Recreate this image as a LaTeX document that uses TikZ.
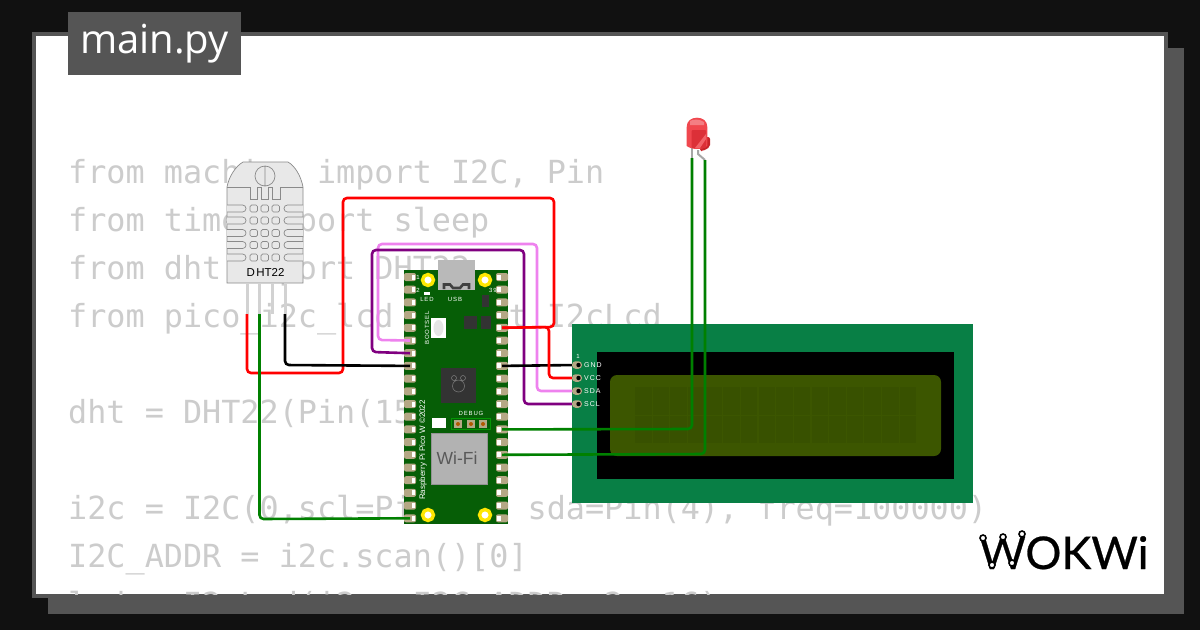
\documentclass[tikz,border=0pt]{standalone}
\usepackage{fontspec}
\setmonofont{DejaVu Sans Mono}
\newfontfamily\titlefont{Open Sans}
\newfontfamily\labelfont{Liberation Sans}
\newfontfamily\spacedfont[LetterSpace=14]{Liberation Sans}
\newfontfamily\logofont[FakeBold=0.6]{Lato}
\usetikzlibrary{calc}
\definecolor{pagedark}{HTML}{111111}
\definecolor{framegray}{HTML}{555555}
\definecolor{codegray}{HTML}{CCCCCC}
\definecolor{picogreen}{HTML}{065E06}
\definecolor{padtan}{HTML}{B5A885}
\definecolor{lcdgreen}{HTML}{087F45}
\definecolor{lcdolive}{HTML}{3C5600}
\definecolor{lcdcell}{HTML}{385100}
\definecolor{dhtgray}{HTML}{E8E8E8}
\definecolor{dhtline}{HTML}{8A8A8A}
\definecolor{wirered}{HTML}{FF0000}
\definecolor{wiregreen}{HTML}{008000}
\definecolor{wirepink}{HTML}{EE82EE}
\definecolor{wirepurple}{HTML}{800080}
\definecolor{leddome}{HTML}{F0474E}
\definecolor{ledinner}{HTML}{DC3038}
\definecolor{ledflange}{HTML}{C8242A}
\tikzset{
   wire/.style = {line width=2.6pt, rounded corners=4pt},
   codeline/.style = {anchor=base west, inner sep=0pt, text=codegray, font=\ttfamily\fontsize{31.8}{38}\selectfont},
   tiny/.style = {inner sep=0pt, text=white, font=\spacedfont\fontsize{6}{7}\selectfont},
   lcdname/.style = {inner sep=0pt, text=white, anchor=west, font=\spacedfont\fontsize{7}{8}\selectfont},
   picopad/.style = {rectangle, rounded corners=2pt, fill=padtan, minimum width=12pt, minimum height=8pt, inner sep=0pt},
   lcdpad/.style = {rectangle, rounded corners=3.5pt, fill=padtan, minimum width=10pt, minimum height=7.5pt, inner sep=0pt},
   hole/.style = {circle, draw=yellow!90!orange, line width=3.4pt, fill=white, minimum size=11pt, inner sep=0pt},
   slot/.style = {draw=dhtline, line width=0.7pt, fill=dhtgray},
   darkchip/.style = {fill=black!80, draw=none},
}

\begin{document}
\begin{tikzpicture}[x=1pt,y=-1pt]
   \useasboundingbox (0,0) rectangle (1200,630);
   \fill[pagedark] (0,0) rectangle (1200,630);
   \fill[framegray] (48,48) rectangle (1184,614);
   \fill[white, draw=framegray, line width=4pt] (34,34) rectangle (1166,596);

   \begin{scope}
      \clip (36,36) rectangle (1164,594);
      \foreach \ypos/\txt in {
         183/{from machine import I2C, Pin},
         231/{from time import sleep},
         279/{from dht import DHT22},
         327/{from pico\_i2c\_lcd import I2cLcd},
         423/{dht = DHT22(Pin(15))},
         519/{i2c = I2C(0,scl=Pin(5), sda=Pin(4), freq=100000)},
         567/{I2C\_ADDR = i2c.scan()[0]},
         615/{lcd = I2cLcd(i2c, I2C\_ADDR, 2, 16)}}
      {
         \node[codeline] (code\ypos) at (68,\ypos) {\txt};
      }
   \end{scope}

   \node[fill=framegray, minimum width=173pt, minimum height=63pt, inner sep=0pt, text=white,
      font=\titlefont\fontsize{40}{48}\selectfont] (title) at (154.5,43.5) {main.py};

   % dht22
   \path[draw=dhtline, line width=0.7pt, fill=dhtgray] (227,283) -- (227,187)
      .. controls (229,176) and (236,166) .. (243,162) -- (288,162)
      .. controls (295,166) and (301,176) .. (303,187) -- (303,283) -- cycle;
   \draw[dhtline, line width=0.7pt] (227,187) -- (250,187) -- (250,199) -- (257,199) -- (257,187) -- (261,187) -- (261,199)
      -- (268,199) -- (268,187) -- (272,187) -- (272,199) -- (280,199) -- (280,187) -- (303,187);
   \draw[dhtline, line width=0.7pt] (265,176) circle (10) (265,166) -- (265,186);
   \foreach \ypos in {208.5,220.5,233,245,257.5} {
      \draw[slot, rounded corners=3.4pt] (227,\ypos-3.5) -- (246,\ypos-3.5) -- (246,\ypos+3.5) -- (227,\ypos+3.5);
      \draw[slot, rounded corners=3.4pt] (303,\ypos-3.5) -- (284,\ypos-3.5) -- (284,\ypos+3.5) -- (303,\ypos+3.5);
      \foreach \xpos in {250,261,272}
         \draw[slot, rounded corners=1.5pt] (\xpos,\ypos-3.5) rectangle (\xpos+7.5,\ypos+3.5);
   }
   \node[inner sep=0pt, text=black, font=\labelfont\fontsize{11.5}{13}\selectfont] (dhtname) at (265.5,272) {D\kern1.5pt HT22};
   \foreach \xpos/\pinname in {247/vcc,259.5/sda,272/nc,285/gnd} {
      \fill[gray!35] (\xpos-1.5,283) rectangle (\xpos+1.5,314);
      \coordinate (dht\pinname) at (\xpos,314);
   }

   % pico
   \node[fill=picogreen, minimum width=104pt, minimum height=254pt, inner sep=0pt] (pico) at (456,397) {};
   \foreach \i in {1,...,20} {
      \node[picopad] (pl\i) at (410,{277+(\i-1)*12.7}) {};
      \fill[white] ($(pl\i)+(1.5,-2.5)$) rectangle ($(pl\i)+(5,2.5)$);
      \node[picopad] (pr\i) at (502,{277+(\i-1)*12.7}) {};
      \fill[white] ($(pr\i)+(-5,-2.5)$) rectangle ($(pr\i)+(-1.5,2.5)$);
   }
   \node[fill=gray!55, minimum width=37pt, minimum height=30pt, inner sep=0pt] (usb) at (456.5,275) {};
   \draw[black!75, line width=2.6pt] (444,289) -- (444,284.5) -- (450,284.5) -- (453,288) -- (460,288) -- (463,284.5) -- (469,284.5) -- (469,289);
   \foreach \xpos/\ypos/\holename in {428/280/a,485/280/b,428/515/c,485/515/d}
      \node[hole] (hole\holename) at (\xpos,\ypos) {};
   \node[tiny] (pinone) at (418,277) {1};
   \node[tiny] (pintwo) at (418,290) {2};
   \node[tiny] (pinlast) at (493,290) {39};
   \node[tiny] (ledname) at (427,299) {LED};
   \node[tiny] (usbname) at (455,299) {USB};
   \fill[white] (424,291.5) rectangle (430,294.5);
   \node[tiny, rotate=90] (bootname) at (427,328) {BOOTSEL};
   \fill[white] (431,318) rectangle (446,338);
   \fill[gray!20] (438.5,328) ellipse (5 and 8);
   \fill[darkchip] (464,316) rectangle (477,329);
   \fill[darkchip] (481,316) rectangle (491,329);
   \fill[darkchip] (482,295) rectangle (489,307);
   \node[darkchip, minimum size=35pt, inner sep=0pt] (chip) at (458.5,385) {};
   \draw[black!50, line width=0.5pt] (454,378) circle (2.5) (463,378) circle (2.5) (458.5,386) circle (6);
   \fill[white] (432,418) rectangle (446,428);
   \draw[green!35!picogreen, line width=1pt] (451,418) rectangle (490,429);
   \foreach \xpos in {458,471,483} {
      \node[rectangle, fill=padtan, minimum size=8pt, inner sep=0pt] (debug\xpos) at (\xpos,424) {};
      \fill[orange!70!black] (\xpos,424) circle (2);
   }
   \node[tiny] (debugname) at (471,413) {DEBUG};
   \node[fill=gray!60, draw=gray!85, line width=0.8pt, minimum width=56pt, minimum height=51pt, inner sep=0pt,
      text=black!65, font=\labelfont\fontsize{17.5}{20}\selectfont] (wifi) at (459,458.5) {Wi-Fi\hspace*{4pt}};
   \node[inner sep=0pt, text=white, rotate=90, font=\labelfont\fontsize{8}{9}\selectfont] (piconame) at (423,450) {Raspberry Pi Pico W \textcopyright 2022};

   % lcd
   \node[fill=lcdgreen, minimum width=401pt, minimum height=179pt, inner sep=0pt] (lcd) at (772.5,413.5) {};
   \node[fill=black, minimum width=357pt, minimum height=127pt, inner sep=0pt] (lcdframe) at (775.5,415.5) {};
   \node[fill=lcdolive, rounded corners=7pt, minimum width=331pt, minimum height=81pt, inner sep=0pt] (lcdview) at (775.5,415.5) {};
   \foreach \i in {0,...,15} {
      \fill[lcdcell] ({635+\i*17.65},387) rectangle ({651.5+\i*17.65},414.6);
      \fill[lcdcell] ({635+\i*17.65},415.6) rectangle ({651.5+\i*17.65},443);
   }
   \foreach \ypos/\pinname/\pintext in {365/gnd/GND,378/vcc/VCC,391/sda/SDA,404/scl/SCL} {
      \node[lcdpad] (lcd\pinname) at (577,\ypos) {};
      \fill[black] (lcd\pinname) ++(1.5,0) circle (2.2);
      \node[lcdname] (lcdname\pinname) at (584,\ypos) {\pintext};
   }
   \node[tiny] (lcdone) at (578,356) {1};

   % led
   \draw[gray!70, line width=2pt] (692,148) -- (692,158);
   \draw[gray!70, line width=2pt] (698,150) -- (698,154) -- (705,160);
   \coordinate (ledcathode) at (692,158);
   \coordinate (ledanode) at (705,160);
   \fill[ledflange, rounded corners=2pt] (700,137) -- (710,137) -- (710,147) -- (703,151) -- (700,151) -- cycle;
   \path[fill=leddome] (686.7,146) -- (686.7,127) .. controls (686.7,121) and (691,117.7) .. (697,117.7)
      .. controls (703,117.7) and (707.3,121) .. (707.3,127) -- (707.3,146) .. controls (702,150) and (692,150) .. (686.7,146) -- cycle;
   \fill[ledinner, rounded corners=1pt] (691.5,130) rectangle (706,148);
   \fill[leddome!85!white] (695,148) -- (706,134) -- (706,139) -- (700,148) -- cycle;
   \fill[white, opacity=0.3] (690,121) .. controls (693,119) and (700,119) .. (704,122) -- (704,125) -- (690,125) -- cycle;

   % wires
   \draw[wire, wirered] (dhtvcc) -- (247,373) -- (343,373) -- (343,198) -- (554,198) -- (554,327) -- (pr5.center);
   \draw[wire, wiregreen] (dhtsda) -- (259.5,519) -- (pl20.center);
   \draw[wire, black] (dhtgnd) -- (285,365) -- (pl8.center);
   \draw[wire, wirepink] (pl6.center) -- (378,340) -- (378,244) -- (537,244) -- (537,391) -- (lcdsda);
   \draw[wire, wirepurple] (pl7.center) -- (372,352) -- (372,250) -- (524,250) -- (524,404) -- (lcdscl);
   \draw[wire, black] (pr8.center) -- (lcdgnd);
   \draw[wire, wirered] (pr5.center) -- (549,327) -- (549,378) -- (lcdvcc);
   \draw[wire, wiregreen] (pr13.center) -- (692,429) -- (ledcathode);
   \draw[wire, wiregreen] (pr15.center) -- (705,454) -- (ledanode);

   % logo
   \node[inner sep=0pt, anchor=base west, text=black, font=\logofont\fontsize{45}{54}\selectfont] (logo) at (979,569) {WOKWi};
   \foreach \xpos/\ypos in {983/538,1003/537,1022/534,992/565,1012/563}
      \draw[black, fill=white, line width=1.6pt] (\xpos,\ypos) circle (3);
\end{tikzpicture}
\end{document}
